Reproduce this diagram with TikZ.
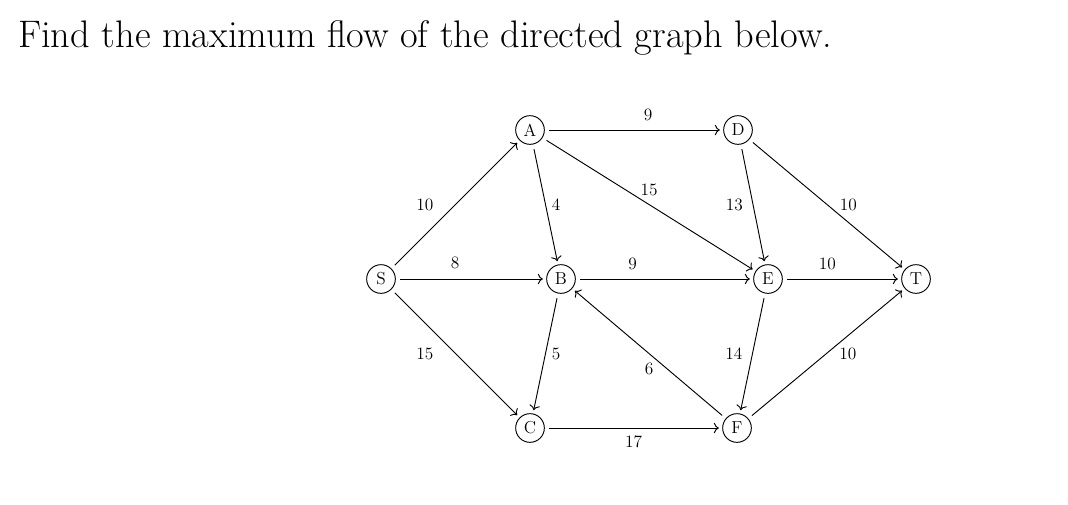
\documentclass[tikz,border=0pt]{standalone}
\usetikzlibrary{arrows.meta}
\begin{document}
\begin{tikzpicture}[x=0.75pt,y=-0.75pt,
  vtx/.style={draw,circle,line width=0.7pt,minimum size=21.5pt,inner sep=0pt,font=\fontsize{13}{15}\selectfont},
  arc/.style={-{To[scale=1.2]},line width=0.7pt,shorten <=3.5pt,shorten >=2.5pt},
  lbl/.style={midway,inner sep=0pt,font=\fontsize{13}{15}\selectfont}]
\useasboundingbox (0,0) rectangle (1068,504);
\node[anchor=base west,inner sep=0pt,font=\fontsize{28.8}{34}\selectfont] (title) at (18,47) {Find the maximum flow of the directed graph below.};
\node[vtx] (S) at (381,279) {S};
\node[vtx] (A) at (530,130) {A};
\node[vtx] (B) at (561,279) {B};
\node[vtx] (C) at (530,428) {C};
\node[vtx] (D) at (738,130) {D};
\node[vtx] (E) at (768,279) {E};
\node[vtx] (F) at (737,428) {F};
\node[vtx] (T) at (916,279) {T};
\draw[arc] (S) -- (A) node[lbl,xshift=-23pt] {10};
\draw[arc] (S) -- (B) node[lbl,xshift=-12pt,yshift=12pt] {8};
\draw[arc] (S) -- (C) node[lbl,xshift=-23pt] {15};
\draw[arc] (A) -- (B) node[lbl,xshift=8pt] {4};
\draw[arc] (B) -- (C) node[lbl,xshift=8pt] {5};
\draw[arc] (A) -- (D) node[lbl,xshift=10.5pt,yshift=11.5pt] {9};
\draw[arc] (A) -- (E) node[lbl,yshift=11pt] {15};
\draw[arc] (B) -- (E) node[lbl,xshift=-24pt,yshift=11pt] {9};
\draw[arc] (D) -- (E) node[lbl,xshift=-14pt] {13};
\draw[arc] (D) -- (T) node[lbl,xshift=16pt] {10};
\draw[arc] (E) -- (T) node[lbl,xshift=-11pt,yshift=11pt] {10};
\draw[arc] (E) -- (F) node[lbl,xshift=-14pt] {14};
\draw[arc] (F) -- (T) node[lbl,xshift=16pt] {10};
\draw[arc] (F) -- (B) node[lbl,yshift=-11.5pt] {6};
\draw[arc] (C) -- (F) node[lbl,yshift=-10.5pt] {17};
\end{tikzpicture}
\end{document}
